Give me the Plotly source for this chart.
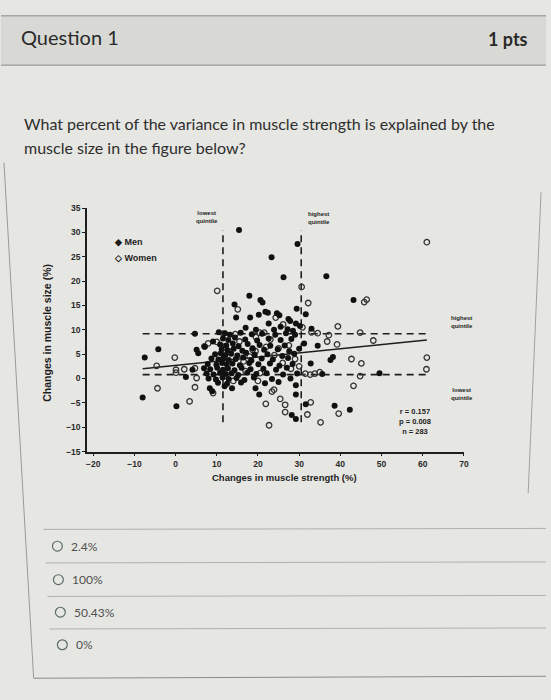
import plotly.graph_objects as go

W, H = 551, 700

# ---------------- data ----------------
men_x = [-7.5, -4.2, -8.0, 0.2, 4.7, 5.1, 5.5, 2.5, 4.1, 7.1, 9.1, 8.3, 8.9, 11.9, 13.7, 19.4, 20.3,
         29.2, 29.2, 31.6, 28.2, 29.2, 38.6, 42.3, 32.8, 37.6, 38.2, 35.6, 49.5,
         15.4, 29.6, 23.3, 26.2, 36.6, 17.9, 20.6, 21.1, 14.3, 14.7, 18.1, 20.2, 21.8, 22.4, 24.6, 25.2,
         22.6, 27.4, 27.8, 29.2, 29.4, 31.6, 43.2, 19.5, 23.9, 27.2, 17.0, 25.5, 28.5, 30.2, 33.0,
         10.5, 12.0, 13.2, 15.8, 18.5, 21.0, 24.2, 26.8, 29.0,
         11.5, 12.8, 14.4, 16.9, 19.8, 22.6, 25.5, 28.1,
         10.8, 12.3, 13.9, 15.3, 17.5, 20.4, 23.0, 26.5, 31.2, 34.5,
         11.2, 12.6, 14.1, 16.2, 18.7, 21.5, 24.8, 27.6, 30.0,
         9.6, 11.0, 12.1, 13.5, 15.0, 17.1, 19.2, 22.3, 25.9, 28.8,
         8.7, 10.4, 11.6, 12.9, 14.6, 16.4, 18.4, 20.9, 23.6, 27.3,
         7.8, 9.9, 11.3, 12.4, 13.8, 15.6, 17.9, 20.1, 22.9, 25.2, 28.4,
         6.9, 8.4, 10.1, 11.5, 12.7, 14.3, 16.0, 18.2, 21.3, 24.4, 27.0,
         7.5, 9.2, 10.8, 12.2, 13.6, 15.2, 17.4, 19.6, 22.1, 26.1, 29.5,
         8.0, 9.8, 11.4, 12.9, 14.8, 16.7, 19.0, 23.4, 27.9,
         10.3, 12.5, 15.9, 21.7, 25.0]
men_y = [4.3, 6.0, -3.9, -5.7, 9.2, 5.9, 5.2, 0.3, 1.8, 6.5, 7.6, -2.0, -2.6, -1.6, -2.0, -2.0, -3.3,
         -1.4, -3.3, -5.3, -7.5, -8.3, -5.6, -6.4, 3.1, 3.8, 4.4, 0.9, 1.1,
         30.5, 27.6, 24.9, 20.8, 21.0, 17.0, 16.1, 15.6, 15.2, 12.5, 12.5, 13.1, 13.7, 13.5, 13.4, 13.0,
         11.3, 12.2, 11.8, 11.3, 14.3, 13.2, 16.1, 10.0, 10.0, 10.1, 10.4, 10.6, 9.8, 10.8, 10.2,
         9.5, 9.3, 9.0, 9.4, 9.1, 9.2, 9.0, 9.3, 9.0,
         8.2, 7.9, 8.4, 8.0, 7.8, 8.2, 7.9, 8.1,
         7.0, 6.8, 7.2, 6.6, 7.1, 6.9, 6.7, 6.8, 7.2, 6.7,
         6.0, 5.8, 6.1, 5.7, 6.2, 5.9, 6.0, 5.6, 6.1,
         5.0, 5.2, 4.8, 5.1, 4.7, 5.3, 4.9, 5.0, 4.6, 5.1,
         4.1, 3.9, 4.2, 3.8, 4.0, 4.3, 3.7, 4.1, 3.9, 4.2,
         3.0, 2.8, 3.2, 2.9, 3.1, 2.7, 3.2, 2.9, 3.1, 2.6, 3.0,
         2.1, 1.9, 2.2, 1.8, 2.1, 1.7, 2.2, 1.9, 2.0, 1.8, 2.2,
         1.0, 0.8, 1.2, 0.9, 1.1, 0.7, 1.2, 0.9, 1.1, 0.8, 1.0,
         0.0, -0.2, 0.2, -0.1, 0.1, -0.3, 0.2, -0.1, 0.0,
         -0.9, -1.1, -0.8, -1.0, -0.7]

women_x = [10.1, 15.1, 30.6, 32.2, 24.3, 26.1, 39.4, 45.8, 46.4, 30.8, 33.0, 34.5, 44.8, 20.4, 21.5,
           61.0, 61.0, 60.9, 37.2, 39.2, 48.0, -4.6, -0.2, 0.1, 0.1, 2.1, -4.4, 4.7, 3.4, 5.1, 9.1,
           7.9, 7.0, 4.7, 11.6, 14.5, 15.5, 18.7, 19.4, 20.5, 36.8, 42.7, 45.1, 43.2, 31.5, 32.7,
           33.8, 35.0, 44.8, 32.8, 32.0, 39.6, 35.2, 21.9, 23.4, 23.9, 25.4, 26.6, 26.6, 22.7,
           13.0, 16.5, 18.0, 22.0, 24.0, 26.0, 28.0, 17.0, 19.5, 23.0, 25.0, 27.5, 29.0, 20.0,
           14.0, 12.0, 30.0, 10.0]
women_y = [18.0, 14.2, 18.8, 15.5, 12.5, 11.1, 10.7, 15.7, 16.2, 10.5, 9.5, 9.3, 9.4, 9.4, 9.4,
           28.0, 4.3, 1.9, 8.9, 7.0, 7.8, 2.6, 4.3, 1.8, 1.2, 1.9, -2.0, -1.8, -4.7, 0.1, -3.0,
           7.2, 6.6, 2.1, 9.2, 9.1, 7.6, 5.9, 5.6, 1.1, 7.6, 4.0, 3.1, -1.5, 1.0, 0.8,
           1.0, 1.3, 0.5, -4.9, -7.4, -7.2, -9.0, -5.2, -2.7, -2.3, -4.2, -5.4, -6.9, -9.6,
           5.5, 3.5, 4.5, 6.5, 4.8, 3.2, 2.0, 1.5, 8.5, 8.0, 6.2, 6.8, 4.0, -0.5,
           -0.5, 0.5, 2.5, 7.5]

# regression line & quintile cut lines
reg_x = [-8, 61]
reg_y = [2.0, 7.9]
hline_x = [-8, 61]
hline_hi_y = 9.2
hline_lo_y = 0.8
vline_y = [-9, 30.5]
vline_lo_x = 11.5
vline_hi_x = 30.5

x_ticks = [-20, -10, 0, 10, 20, 30, 40, 50, 60, 70]
y_ticks = [-15, -10, -5, 0, 5, 10, 15, 20, 25, 30, 35]

stats_text = "r = 0.157<br>p = 0.008<br>n = 283"
options = ["2.4%", "100%", "50.43%", "0%"]

# ---------------- helpers ----------------
def PX(x):
    return x / W

def PY(y):
    return 1 - y / H

INK = "#1e1e1e"
AX_FONT = "Liberation Sans, Arial, sans-serif"
PAGE_FONT = "Lato, Open Sans, sans-serif"

fig = go.Figure()

dash = "7px,5px"
for xs, ys in [(hline_x, [hline_hi_y] * 2), (hline_x, [hline_lo_y] * 2),
               ([vline_lo_x] * 2, vline_y), ([vline_hi_x] * 2, vline_y)]:
    fig.add_trace(go.Scatter(x=xs, y=ys, mode="lines",
                             line=dict(color=INK, width=1.6, dash=dash), showlegend=False, hoverinfo="skip"))
fig.add_trace(go.Scatter(x=reg_x, y=reg_y, mode="lines",
                         line=dict(color=INK, width=1.6), showlegend=False, hoverinfo="skip"))

fig.add_trace(go.Scatter(x=women_x, y=women_y, mode="markers", name="Women",
                         marker=dict(symbol="circle-open", size=5.5, color="#333333",
                                     line=dict(width=1.3, color="#333333")),
                         showlegend=False))
fig.add_trace(go.Scatter(x=men_x, y=men_y, mode="markers", name="Men",
                         marker=dict(symbol="circle", size=6, color="#111111"),
                         showlegend=False))

tickfont = dict(family=AX_FONT, size=8.5, color="#2a2a2a", weight="bold")
fig.update_xaxes(range=[-21.5, 70], domain=[PX(87), PX(468)], tickvals=x_ticks,
                 showgrid=False, zeroline=False, showline=True, linecolor=INK, linewidth=1.6,
                 ticks="outside", ticklen=3, tickcolor=INK, tickfont=tickfont, anchor="y")
fig.update_yaxes(range=[-15, 35], domain=[PY(453), PY(206)], tickvals=y_ticks,
                 showgrid=False, zeroline=False, showline=True, linecolor=INK, linewidth=1.6,
                 ticks="outside", ticklen=3, tickcolor=INK, tickfont=tickfont, anchor="x")

BG = "#e6e6e2"
shapes = [
    dict(type="rect", xref="paper", yref="paper", x0=0, x1=1, y0=PY(61), y1=PY(11),
         fillcolor="#d8d8d5", line=dict(width=0), layer="below"),
    dict(type="line", xref="paper", yref="paper", x0=0, x1=1, y0=PY(11), y1=PY(11),
         line=dict(color="#8a8a88", width=1)),
    dict(type="line", xref="paper", yref="paper", x0=0, x1=1, y0=PY(61), y1=PY(61),
         line=dict(color="#8a8a88", width=1)),
    dict(type="line", xref="paper", yref="paper", x0=PX(3), x1=PX(33), y0=PY(160), y1=PY(683),
         line=dict(color="#9a9a98", width=1)),
    dict(type="line", xref="paper", yref="paper", x0=PX(33), x1=1, y0=PY(683), y1=PY(681),
         line=dict(color="#8a8a88", width=1)),
    dict(type="line", xref="paper", yref="paper", x0=PX(546), x1=PX(533), y0=PY(190), y1=PY(495),
         line=dict(color="#a0a09e", width=1)),
]
sep_y = [532, 566, 600, 633]
for i, sy in enumerate(sep_y):
    shapes.append(dict(type="line", xref="paper", yref="paper", x0=PX(43 + i * 2), x1=1,
                       y0=PY(sy), y1=PY(sy - 1), line=dict(color="#b0b0ae", width=1)))
radio = [(57, 549), (58, 583), (60, 616), (62, 649)]
for (cx, cy) in radio:
    shapes.append(dict(type="circle", xref="paper", yref="paper", x0=PX(cx - 5), x1=PX(cx + 5),
                       y0=PY(cy + 5), y1=PY(cy - 5), line=dict(color="#5a6a6a", width=1.2)))

ann = []
def text(x, y, s, size, color=INK, family=AX_FONT, weight="bold", xanchor="left", angle=0, yanchor="middle"):
    ann.append(dict(x=PX(x), y=PY(y), xref="paper", yref="paper", text=s, showarrow=False,
                    xanchor=xanchor, yanchor=yanchor, textangle=angle,
                    font=dict(family=family, size=size, color=color, weight=weight)))

# page text
text(18, 32, "Question 1", 20, color="#2a2a2a", family=PAGE_FONT, weight="normal")
text(535, 34, "1 pts", 18, color="#2a2a2a", family=PAGE_FONT, weight="bold", xanchor="right")
text(21, 120, "What percent of the variance in muscle strength is explained by the", 16,
     color="#2e2e2e", family=PAGE_FONT, weight="normal")
text(21, 145, "muscle size in the figure below?", 16, color="#2e2e2e", family=PAGE_FONT, weight="normal")
for i, (opt, (cx, cy)) in enumerate(zip(options, radio)):
    text(cx + 12, cy, opt, 12, color="#505050", family=PAGE_FONT, weight="normal")

# chart text
text(47, 332, "Changes in muscle size (%)", 10.5, angle=-90, xanchor="center")
text(287, 479, "Changes in muscle strength (%)", 9.5, xanchor="center")
text(112, 240, "◆ Men", 9)
text(112, 257, "◇ Women", 9)
text(208, 215, "lowest<br>quintile", 6, xanchor="center")
text(322, 216, "highest<br>quintile", 6, xanchor="center")
text(466, 322, "highest<br>quintile", 6, xanchor="center")
text(466, 395, "lowest<br>quintile", 6, xanchor="center")
text(400, 423, stats_text, 7.5, xanchor="left")

fig.update_layout(width=W, height=H, margin=dict(l=0, r=0, t=0, b=0),
                  paper_bgcolor=BG, plot_bgcolor=BG, shapes=shapes, annotations=ann,
                  showlegend=False)

fig.write_html("out.html", config={"displayModeBar": False})
